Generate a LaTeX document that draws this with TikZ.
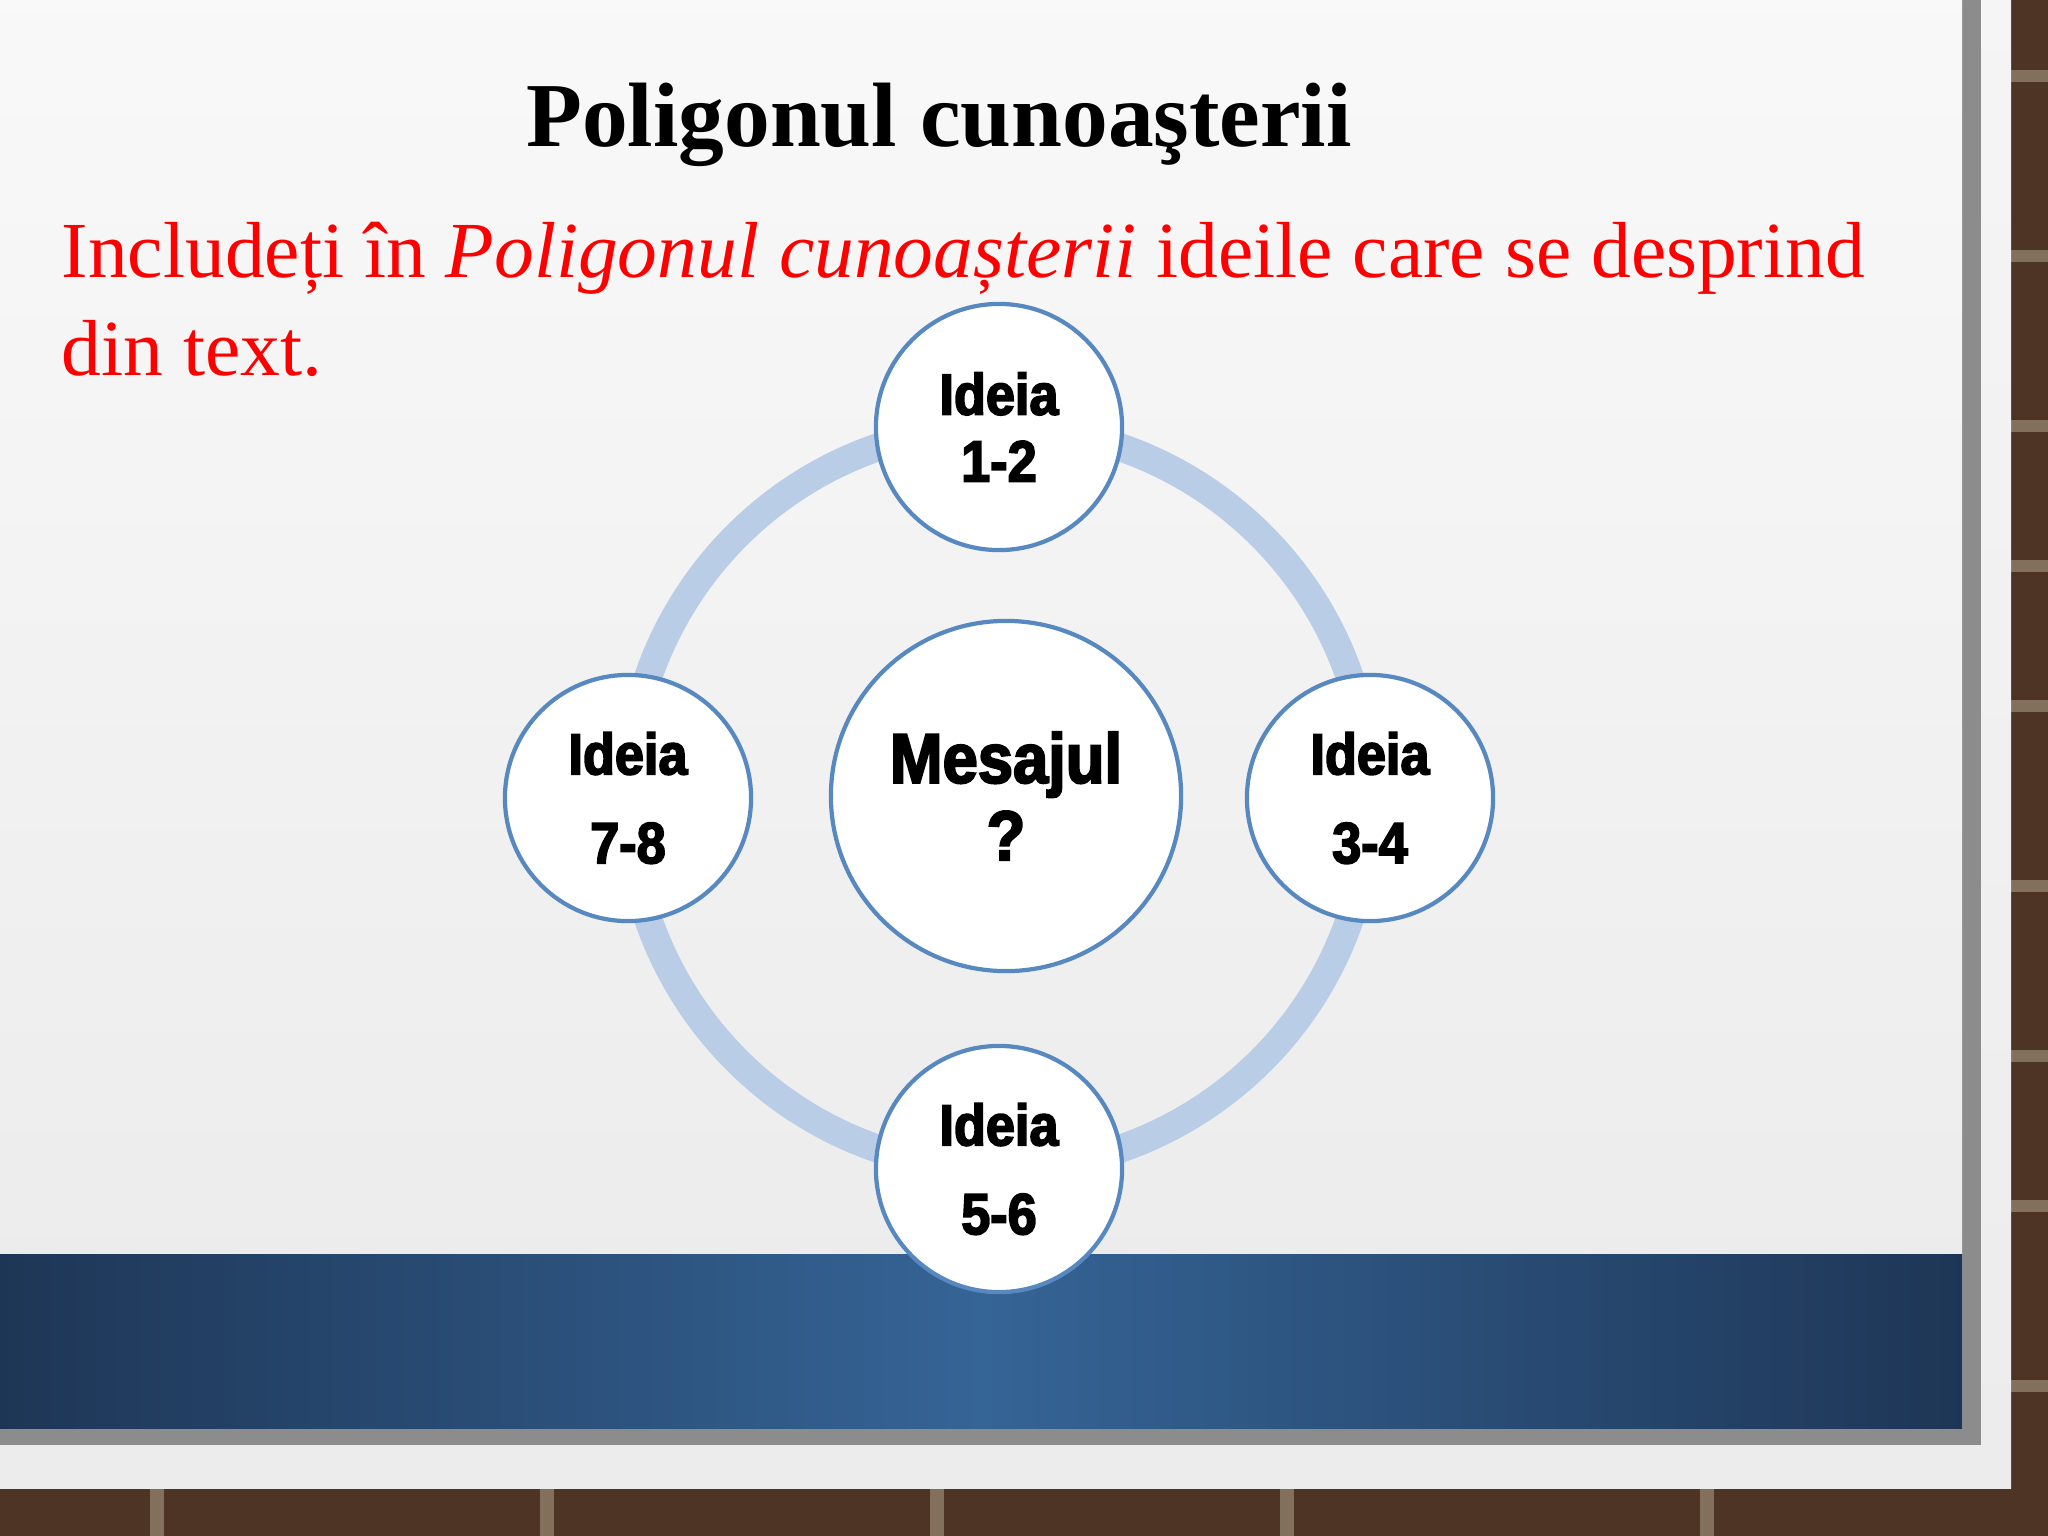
\documentclass[tikz,border=0pt]{standalone}
\usepackage{fontspec}
\setmainfont{Liberation Serif}
\newfontfamily\impact[FakeStretch=0.9,FakeBold=3]{Liberation Sans Bold}
\usepackage{xcolor}
\usepackage{tikz}
\usetikzlibrary{calc}

\definecolor{ringblue}{RGB}{185,206,230}
\definecolor{edgeblue}{RGB}{88,136,192}
\definecolor{bandblue}{RGB}{53,100,150}
\definecolor{banddark}{RGB}{30,54,86}
\definecolor{brick}{RGB}{78,52,36}
\definecolor{mortar}{RGB}{130,112,92}
\definecolor{slidered}{RGB}{255,0,0}

\tikzset{
  idea/.style={circle, draw=edgeblue, line width=1.2pt, fill=white,
    minimum size=2.46cm, inner sep=0pt, align=center,
    font=\impact\fontsize{16.5}{19}\selectfont},
  core/.style={idea, minimum size=3.5cm,
    font=\impact\fontsize{20}{22}\selectfont}
}

\begin{document}
\begin{tikzpicture}[x=0.01cm, y=-0.01cm]
			\useasboundingbox (0,0) rectangle (2048,1536);
			% Wall and slide
			\fill[brick] (0,0) rectangle (2048,1536);
			\foreach \y in {70,250,420,560,700,880,1050,1200,1380} {
				\fill[mortar] (2011,\y) rectangle (2048,\y+12);
			}
			\foreach \x in {150,540,930,1280,1700} {
				\fill[mortar] (\x,1488) rectangle (\x+14,1536);
			}
			\shade[top color=white!92!gray, bottom color=white!85!gray] (0,0) rectangle (2011,1488);
			\fill[gray!90] (1962,0) rectangle (1981,1445);
			\fill[gray!90] (0,1428) rectangle (1981,1445);
			\shade[top color=white!95!gray, bottom color=white!84!gray] (0,0) rectangle (1962,1428);
			\shade[left color=banddark, right color=banddark, middle color=bandblue] (0,1254) rectangle (1962,1428);
			
			% Texts
			\node[anchor=base, font=\bfseries\fontsize{26}{30}\selectfont] (title) at (939,146) {Poligonul cunoaşterii};
			\node[anchor=base west, align=left, text=slidered, inner sep=0pt,
				font=\fontsize{22.6}{27.6}\selectfont] (task) at (61,375)
				{Includeți în \textit{Poligonul cunoașterii} ideile care se desprind\\din text.};
			
			% Polygon
			\coordinate (mid) at (999,798);
			\draw[ringblue, line width=0.28cm] (mid) circle[radius=371];
			\node[core] (msg) at (1006,796) {Mesajul\\?};
			\node[idea] (i12) at (999,427) {Ideia\\1-2};
			\node[idea] (i34) at (1370,798) {Ideia\\[2.2mm]3-4};
			\node[idea] (i56) at (999,1169) {Ideia\\[2.2mm]5-6};
			\node[idea] (i78) at (628,798) {Ideia\\[2.2mm]7-8};
		\end{tikzpicture}
\end{document}
